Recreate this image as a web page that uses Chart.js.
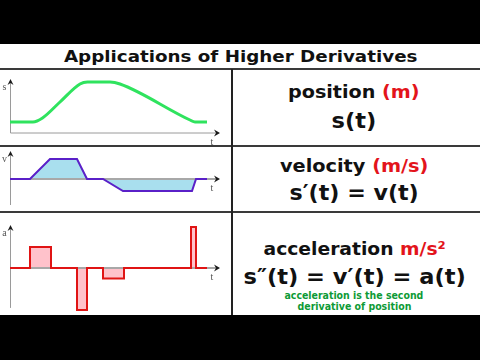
<!DOCTYPE html>
<html>
<head>
<meta charset="utf-8">
<script src="https://cdn.jsdelivr.net/npm/chart.js@4.4.1/dist/chart.umd.min.js"></script>
<style>
body { margin: 0; width: 480px; height: 360px; background: #fff; position: relative; overflow: hidden; font-family: "DejaVu Sans", sans-serif; }
.bar { position: absolute; left: 0; width: 480px; background: #000; }
.hl { position: absolute; left: 0; width: 480px; height: 2px; background: #3a3a3a; }
.vl { position: absolute; left: 231px; top: 69px; width: 2px; height: 246px; background: #222; }
.txt { position: absolute; font-weight: bold; white-space: nowrap; line-height: 1; color: #111; transform-origin: center center; }
.red { color: #e3141b; }
.green { color: #0d9a36; }
canvas { position: absolute; left: 0; }
</style>
</head>
<body>
<div class="bar" style="top:0;height:44px"></div>
<div class="bar" style="top:315px;height:45px"></div>
<div class="hl" style="top:68px"></div>
<div class="hl" style="top:145px"></div>
<div class="hl" style="top:211px"></div>
<div class="vl"></div>

<div class="txt" data-x="240" data-y="57" data-w="353" style="font-size:16px">Applications of Higher Derivatives</div>
<div class="txt" data-x="354" data-y="92" data-w="132" style="font-size:18px">position <span class="red">(m)</span></div>
<div class="txt" data-x="354" data-y="121" data-w="45" style="font-size:22px">s(t)</div>
<div class="txt" data-x="354" data-y="166" data-w="148" style="font-size:18px">velocity <span class="red">(m/s)</span></div>
<div class="txt" data-x="354" data-y="193" data-w="129" style="font-size:22px">s′(t) = v(t)</div>
<div class="txt" data-x="354" data-y="249" data-w="182" style="font-size:18px">acceleration <span class="red">m/s²</span></div>
<div class="txt" data-x="354" data-y="277" data-w="222" style="font-size:22px">s″(t) = v′(t) = a(t)</div>
<div class="txt green" data-x="354" data-y="296" data-w="139" style="font-size:10px">acceleration is the second</div>
<div class="txt green" data-x="354" data-y="307" data-w="114" style="font-size:10px">derivative of position</div>

<canvas id="posChart" width="230" height="76" style="top:70px"></canvas>
<canvas id="velChart" width="230" height="64" style="top:148px"></canvas>
<canvas id="accChart" width="230" height="100" style="top:214px"></canvas>

<script>
// position s(t)
const tPos = [0, 4.6, 6.5, 10, 14, 15.5, 20, 22, 36, 37, 39.4];
const sPos = [11, 11, 15, 31, 49, 51, 51, 49, 13, 11, 11];

// velocity v(t)
const tVel = [0, 4, 8, 13.4, 15.4, 18.6, 22.6, 36.4, 37.2, 39.4];
const vVel = [0, 0, 4, 4, 0, 0, -2.4, -2.4, 0, 0];

// acceleration a(t), held until the next time
const tAcc = [0, 4, 8.2, 13.4, 15.4, 18.6, 22.8, 36.2, 37.2, 39.4];
const aAcc = [0, 1, 0, -2, 0, -0.5, 0, 1.95, 0, 0];

// fit the text lines to the widths in the picture
document.querySelectorAll('.txt').forEach(function (el) {
    const w = el.offsetWidth, h = el.offsetHeight;
    el.style.left = (el.dataset.x - w / 2) + 'px';
    el.style.top = (el.dataset.y - h / 2) + 'px';
    el.style.transform = 'scaleX(' + (el.dataset.w / w) + ')';
});

function pts(xs, ys) {
    return xs.map(function (x, i) { return { x: x, y: ys[i] }; });
}

// axes with arrow heads, drawn between fill and line
const axesPlugin = {
    id: 'axes',
    beforeDatasetsDraw(chart, args, opts) {
        const ctx = chart.ctx;
        const x = chart.scales.x, y = chart.scales.y;
        const x0 = Math.round(x.getPixelForValue(0)) + 0.5;
        const xEnd = x.getPixelForValue(opts.xEnd);
        const y0 = y.getPixelForValue(0);
        const yTop = y.getPixelForValue(opts.yTop);
        const yBot = y.getPixelForValue(opts.yBottom);
        ctx.save();
        ctx.strokeStyle = '#9a9a9a';
        ctx.lineWidth = 1;
        ctx.beginPath();
        ctx.moveTo(x0, yBot);
        ctx.lineTo(x0, yTop + 3);
        ctx.stroke();
        ctx.strokeStyle = opts.xColor;
        ctx.lineWidth = opts.xWidth;
        ctx.beginPath();
        ctx.moveTo(x0, y0);
        ctx.lineTo(xEnd - 3, y0);
        ctx.stroke();
        ctx.fillStyle = '#1a1a1a';
        ctx.beginPath();
        ctx.moveTo(x0, yTop);
        ctx.lineTo(x0 - 3, yTop + 6);
        ctx.lineTo(x0, yTop + 4);
        ctx.lineTo(x0 + 3, yTop + 6);
        ctx.closePath();
        ctx.fill();
        ctx.beginPath();
        ctx.moveTo(xEnd, y0);
        ctx.lineTo(xEnd - 6, y0 - 3.5);
        ctx.lineTo(xEnd - 4, y0);
        ctx.lineTo(xEnd - 6, y0 + 3.5);
        ctx.closePath();
        ctx.fill();
        ctx.font = '10px "Liberation Serif"';
        ctx.fillStyle = '#555';
        ctx.textAlign = 'center';
        ctx.textBaseline = 'middle';
        ctx.fillText(opts.yLabel, x0 - 6, yTop + 8);
        ctx.fillText('t', xEnd - 8, y0 + 9);
        ctx.restore();
    }
};

function makeChart(id, dataset, yMin, yMax, axes) {
    return new Chart(document.getElementById(id), {
        type: 'line',
        data: { datasets: [dataset] },
        options: {
            responsive: false,
            animation: false,
            devicePixelRatio: 1,
            layout: { padding: 0 },
            elements: { point: { radius: 0 } },
            scales: {
                x: { type: 'linear', display: false, min: -2, max: 44 },
                y: { display: false, min: yMin, max: yMax }
            },
            plugins: {
                legend: { display: false },
                tooltip: { enabled: false },
                filler: { drawTime: 'beforeDatasetsDraw' },
                axes: axes
            }
        },
        plugins: [axesPlugin]
    });
}

makeChart('posChart', {
    data: pts(tPos, sPos),
    borderColor: '#2fe35e',
    borderWidth: 3,
    cubicInterpolationMode: 'monotone',
    fill: false
}, -13, 63, { xEnd: 42, yTop: 54, yBottom: 0, yLabel: 's', xColor: '#9a9a9a', xWidth: 1 });

makeChart('velChart', {
    data: pts(tVel, vVel),
    borderColor: '#5a20c8',
    borderWidth: 2,
    backgroundColor: '#a9dfee',
    fill: 'origin'
}, -6.6, 6.2, { xEnd: 42, yTop: 5.6, yBottom: -5.2, yLabel: 'v', xColor: '#a8a8a8', xWidth: 2 });

makeChart('accChart', {
    data: pts(tAcc, aAcc),
    borderColor: '#e01414',
    borderWidth: 2,
    backgroundColor: '#ffc2cb',
    stepped: true,
    fill: 'origin'
}, -2.19, 2.57, { xEnd: 42, yTop: 2.05, yBottom: -1.9, yLabel: 'a', xColor: '#a8a8a8', xWidth: 2 });
</script>
</body>
</html>
